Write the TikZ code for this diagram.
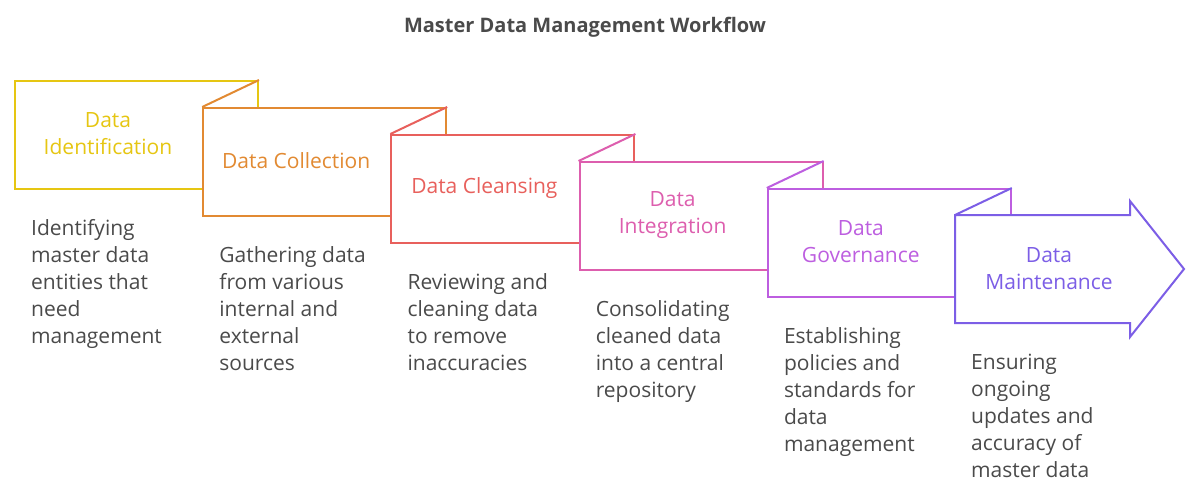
\documentclass[tikz,border=0pt]{standalone}
\usepackage{fontspec}
\setmainfont{Open Sans}
\usetikzlibrary{positioning}
\definecolor{cyel}{HTML}{E6C612}
\definecolor{cora}{HTML}{E28A32}
\definecolor{cred}{HTML}{E8605C}
\definecolor{cpnk}{HTML}{DD5EAE}
\definecolor{cpur}{HTML}{BD5EE0}
\definecolor{cvio}{HTML}{7C5EE6}
\definecolor{txtgray}{HTML}{4A4A4A}

\begin{document}
\begin{tikzpicture}[x=1pt,y=-1pt,
  font=\fontsize{21}{27}\selectfont,
  stepbox/.style={draw=#1,fill=white,line width=2pt,minimum width=243pt,minimum height=108pt,anchor=north west,inner sep=0pt},
  steplabel/.style={text=#1,align=center},
  desc/.style={text=txtgray,align=left,anchor=north west,inner sep=0pt},
  fold/.style={draw=#1,line width=2pt,line join=round}
]
\useasboundingbox (0,0) rectangle (1199,498);
\node[font=\fontsize{20}{24}\selectfont\bfseries,text=txtgray] (title) at (585,27) {Master Data Management Workflow};
% folded steps
\foreach \i/\col/\lab/\txt in {
  1/cyel/{Data\\Identification}/{Identifying\\master data\\entities that\\need\\management},
  2/cora/{Data Collection}/{Gathering data\\from various\\internal and\\external\\sources},
  3/cred/{Data Cleansing}/{Reviewing and\\cleaning data\\to remove\\inaccuracies},
  4/cpnk/{Data\\Integration}/{Consolidating\\cleaned data\\into a central\\repository},
  5/cpur/{Data\\Governance}/{Establishing\\policies and\\standards for\\data\\management}}{
  \pgfmathsetmacro{\bx}{14+188.2*(\i-1)}
  \pgfmathsetmacro{\by}{80+27*(\i-1)}
  \pgfmathtruncatemacro{\prev}{\i-1}
  \node[stepbox=\col] (b\i) at (\bx,\by) {};
  \ifnum\i>1
    \draw[fold=\col] (b\i.north west) -- (b\prev.north east);
  \fi
  \node[steplabel=\col] (l\i) at (\bx+94,\by+54) {\lab};
  \node[desc] (d\i) at (\bx+17,\by+139) {\txt};
}
% last step as arrow
\coordinate (b6) at (955,215);
\draw[draw=cvio,fill=white,line width=2pt] (b6) -- (1130,215) -- (1130,201) -- (1184,269) -- (1130,337) -- (1130,323) -- (955,323) -- cycle;
\draw[fold=cvio] (b6) -- (b5.north east);
\node[steplabel=cvio] (l6) at (1049,269) {Data\\Maintenance};
\node[desc] (d6) at (971,354) {Ensuring\\ongoing\\updates and\\accuracy of\\master data};
\end{tikzpicture}
\end{document}
